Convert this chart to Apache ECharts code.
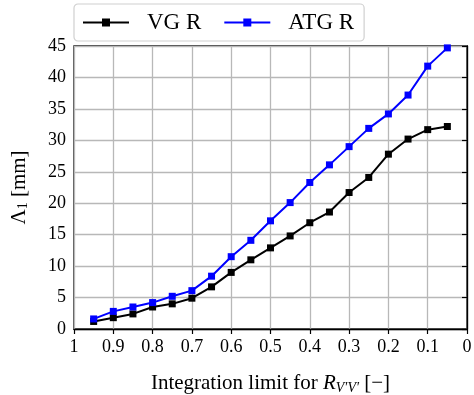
<!DOCTYPE html>
<html><head><meta charset="utf-8">
<script src="https://cdn.jsdelivr.net/npm/echarts@6/dist/echarts.min.js"></script>
<style>html,body{margin:0;padding:0;background:#fff}#c{width:474px;height:395px}</style>
</head><body><div id="c"></div>
<script>
const xValues = [0.95,0.9,0.85,0.8,0.75,0.7,0.65,0.6,0.55,0.5,0.45,0.4,0.35,0.3,0.25,0.2,0.15,0.1,0.05];
const vgR  = [1.2,1.8,2.4,3.5,4.0,4.9,6.7,9.0,11.0,12.9,14.8,16.9,18.6,21.7,24.1,27.8,30.2,31.7,32.2];
const atgR = [1.6,2.8,3.5,4.2,5.2,6.1,8.4,11.5,14.1,17.2,20.1,23.3,26.1,29.0,31.9,34.2,37.2,41.8,44.7];
const seriesNames = ['VG R','ATG R'];
const font = 'Liberation Serif';
const pair = (xs, ys) => xs.map((x,i)=>[x, ys[i]]);
const chart = echarts.init(document.getElementById('c'));
chart.setOption({
  animation:false,
  textStyle:{fontFamily:font},
  grid:{left:74,right:7,top:46,bottom:66,containLabel:false,outerBoundsMode:'none',show:true,borderColor:'#000',borderWidth:1.3,backgroundColor:'transparent'},
  legend:{
    left:74, top:4, itemWidth:46, itemHeight:10, itemGap:22,
    padding:[7,10,7,8], borderColor:'#d0d0d0', borderWidth:1.2, borderRadius:4,
    textStyle:{fontFamily:font,fontSize:23,color:'#000',padding:[0,0,0,13]},
    data:seriesNames
  },
  xAxis:{
    type:'value', inverse:true, min:0, max:1, interval:0.1,
    axisLine:{show:true,onZero:false,lineStyle:{color:'#000',width:1.3}},
    axisTick:{show:true,inside:false,length:5,lineStyle:{color:'#000',width:1.2}},
    axisLabel:{color:'#000',fontSize:18,margin:9,fontFamily:font,formatter:v=>String(Math.round(v*10)/10)},
    splitLine:{show:true,lineStyle:{color:'#b8b8b8',width:1.3}},
    name:'{n|Integration limit for }{i|R}{s|V′V′}{n| [−]}',
    nameLocation:'middle', nameGap:42,
    nameTextStyle:{rich:{
      n:{fontFamily:font,fontSize:21,color:'#000'},
      i:{fontFamily:font,fontSize:21,fontStyle:'italic',color:'#000'},
      s:{fontFamily:font,fontSize:14,fontStyle:'italic',color:'#000',padding:[10,0,0,0]}
    }}
  },
  yAxis:{
    type:'value', min:0, max:45, interval:5,
    axisLine:{show:true,lineStyle:{color:'#000',width:1.3}},
    axisTick:{show:true,inside:false,length:5,lineStyle:{color:'#000',width:1.2}},
    axisLabel:{color:'#000',fontSize:18,margin:8,fontFamily:font},
    splitLine:{show:true,lineStyle:{color:'#b8b8b8',width:1.3}},
    name:'{n|Λ}{s|1}{n| [mm]}',
    nameLocation:'middle', nameGap:44,
    nameTextStyle:{rich:{
      n:{fontFamily:font,fontSize:21,color:'#000'},
      s:{fontFamily:font,fontSize:14,color:'#000',padding:[8,0,0,0]}
    }}
  },
  series:[
    {name:seriesNames[0],type:'line',data:pair(xValues,vgR),symbol:'rect',symbolSize:7,
     lineStyle:{color:'#000',width:2},itemStyle:{color:'#000'}},
    {name:seriesNames[1],type:'line',data:pair(xValues,atgR),symbol:'rect',symbolSize:7,
     lineStyle:{color:'#0000ff',width:2},itemStyle:{color:'#0000ff'}}
  ]
});
</script></body></html>
